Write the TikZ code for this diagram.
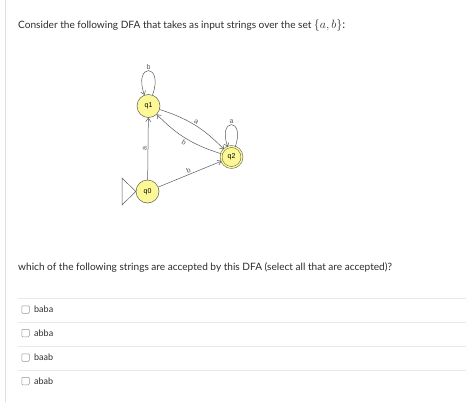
\documentclass[tikz,border=0pt]{standalone}
\usepackage{fontspec}
\setmainfont{Lato}
\newfontfamily\diafont{Liberation Sans}
\usetikzlibrary{arrows.meta}
\definecolor{stfill}{RGB}{252,248,150}
\definecolor{stline}{RGB}{90,90,90}
\definecolor{sepline}{RGB}{232,232,232}
\definecolor{boxline}{RGB}{150,150,150}
\definecolor{txt}{RGB}{45,45,45}
\begin{document}
\begin{tikzpicture}[x=1pt,y=1pt,
  state/.style={circle,draw=stline,fill=stfill,line width=0.5pt,minimum size=23pt,inner sep=0pt,
    font=\diafont\fontsize{7}{8}\selectfont},
  accept/.style={double=stfill,double distance=1.4pt,minimum size=21pt},
  edge/.style={draw=stline,line width=0.5pt,-{Straight Barb[length=3.5pt,width=5pt]}},
  lab/.style={font=\diafont\fontsize{7}{8}\selectfont,text=stline,inner sep=1pt},
  body/.style={font=\fontsize{10.1}{12}\selectfont,text=txt,anchor=base west,inner sep=0pt},
  opt/.style={font=\fontsize{9}{11}\selectfont,text=txt,anchor=base west,inner sep=0pt},
  cbox/.style={draw=boxline,rounded corners=1pt,line width=0.5pt,minimum size=7.5pt,inner sep=0pt},
  sep/.style={draw=sepline,line width=0.8pt}]
\useasboundingbox (0,0) rectangle (474,-402);
\fill[white] (0,0) rectangle (474,-402);
\draw[black!12,line width=1pt] (5,0) -- (5,-402);

\node[body] (title) at (18,-28) {Consider the following DFA that takes as input strings over the set \fontsize{11.5}{12}\selectfont$\{a,b\}$:};

% states
\node[state] (q1) at (148.5,-106) {q1};
\node[state,accept] (q2) at (231.5,-157) {q2};
\node[state] (q0) at (147.5,-191.5) {q0};

% initial marker
\coordinate (i1) at (122,-178);
\coordinate (i2) at (122,-205);
\draw[stline,line width=0.5pt] (q0.west) -- (i1) -- (i2) -- cycle;

% transitions
\draw[edge] (q0) -- node[lab,sloped,above] {a} (q1);
\draw[edge] (q0) -- node[lab,sloped,above] {b} (q2);
\draw[edge] (q1) to[bend left=14] node[lab,sloped,above] {a} (q2);
\draw[edge] (q2) to[bend left=14] node[lab,sloped,below] {b} (q1);
\draw[edge] (q1) to[out=70,in=110,looseness=11] node[lab,above] {b} (q1);
\draw[edge] (q2) to[out=70,in=110,looseness=11] node[lab,above] {a} (q2);

\node[body] (question) at (18,-270.5) {which of the following strings are accepted by this DFA (select all that are accepted)?};

% separators
\coordinate (s1a) at (18,-298.5); \coordinate (s1b) at (466,-298.5);
\coordinate (s2a) at (18,-322);   \coordinate (s2b) at (466,-322);
\coordinate (s3a) at (18,-346);   \coordinate (s3b) at (466,-346);
\coordinate (s4a) at (18,-370);   \coordinate (s4b) at (466,-370);
\draw[sep] (s1a) -- (s1b);
\draw[sep] (s2a) -- (s2b);
\draw[sep] (s3a) -- (s3b);
\draw[sep] (s4a) -- (s4b);

% options
\node[cbox] (c1) at (25.5,-309.5) {};
\node[opt] (o1) at (34,-312.6) {baba};
\node[cbox] (c2) at (25.5,-333) {};
\node[opt] (o2) at (34,-336) {abba};
\node[cbox] (c3) at (25.5,-357.5) {};
\node[opt] (o3) at (34,-360.6) {baab};
\node[cbox] (c4) at (25.5,-381) {};
\node[opt] (o4) at (34,-384) {abab};
\end{tikzpicture}
\end{document}
